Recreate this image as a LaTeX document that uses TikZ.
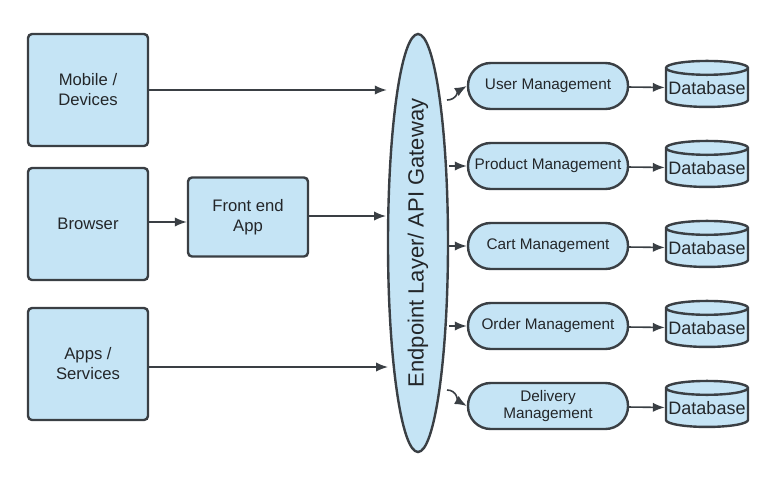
\documentclass[tikz,border=0pt]{standalone}
\usepackage{fontspec}
\setmainfont{Liberation Sans}
\usetikzlibrary{shapes.geometric,arrows.meta}
\definecolor{boxfill}{RGB}{197,228,245}
\definecolor{edge}{RGB}{58,63,68}
\begin{document}
\begin{tikzpicture}[x=0.75pt,y=-0.75pt,
  client/.style = {draw=edge, fill=boxfill, line width=1.8pt, rounded corners=3pt,
        minimum width=120*0.75pt, minimum height=112*0.75pt, align=center,
        font=\fontsize{12.5}{15}\selectfont, text=edge!60!black},
  app/.style = {client, minimum height=79*0.75pt},
  gate/.style = {draw=edge, fill=boxfill, line width=1.8pt, ellipse,
        minimum width=60*0.75pt, minimum height=418*0.75pt, inner sep=0pt},
  svc/.style = {draw=edge, fill=boxfill, line width=1.8pt, rounded corners=17pt,
        minimum width=160*0.75pt, minimum height=46*0.75pt, align=center,
        inner sep=1pt, font=\fontsize{11.5}{12.5}\selectfont, text=edge!60!black},
  db/.style = {draw=edge, fill=boxfill, line width=1.8pt, cylinder,
        shape border rotate=90, aspect=0.18, minimum width=82*0.75pt,
        minimum height=46*0.75pt, inner sep=0pt,
        font=\fontsize{13.5}{15}\selectfont, text=edge!60!black},
  arrow/.style = {draw=edge, line width=1.2pt, -{Latex[length=9pt,width=7pt]}}
]
\useasboundingbox (0,0) rectangle (768,494);
\node[client] (mob) at (88,90)  {Mobile /\\Devices};
\node[client] (bro) at (88,224) {Browser};
\node[client] (aps) at (88,364) {Apps /\\Services};
\node[app]    (fe)  at (248,217) {Front end\\App};
\node[gate]   (gw)  at (418,243) {};
\node[rotate=90, font=\fontsize{16.5}{18}\selectfont, text=edge!60!black] at (gw.center) {Endpoint Layer/ API Gateway};

\node[svc] (s1) at (548,86)  {User Management};
\node[svc] (s2) at (548,166) {Product Management};
\node[svc] (s3) at (548,246) {Cart Management};
\node[svc] (s4) at (548,326) {Order Management};
\node[svc] (s5) at (548,406) {Delivery\\Management};
\foreach \i/\y in {1/88,2/168,3/248,4/328,5/408}
  \node[db] (d\i) at (707,\y) {Database};

\draw[arrow] (mob.east |- 0,90) -- (gw.west |- 0,90);
\draw[arrow] (bro.east |- 0,222) -- (fe.west |- 0,222);
\draw[arrow] (fe.east |- 0,216) -- (386,216);
\draw[arrow] (aps.east |- 0,367) -- (388,367);
\coordinate (g1) at (447,100);
\coordinate (g5) at (447,390);
\draw[arrow] (g1) to[out=0,in=210] (s1.west);
\draw[arrow] (gw.east |- 0,166) -- (s2.west);
\draw[arrow] (gw.east |- 0,246) -- (s3.west);
\draw[arrow] (gw.east |- 0,326) -- (s4.west);
\draw[arrow] (g5) to[out=0,in=150] (s5.west);
\foreach \i in {1,...,5}
  \draw[arrow] (s\i) -- (d\i);
\end{tikzpicture}
\end{document}
